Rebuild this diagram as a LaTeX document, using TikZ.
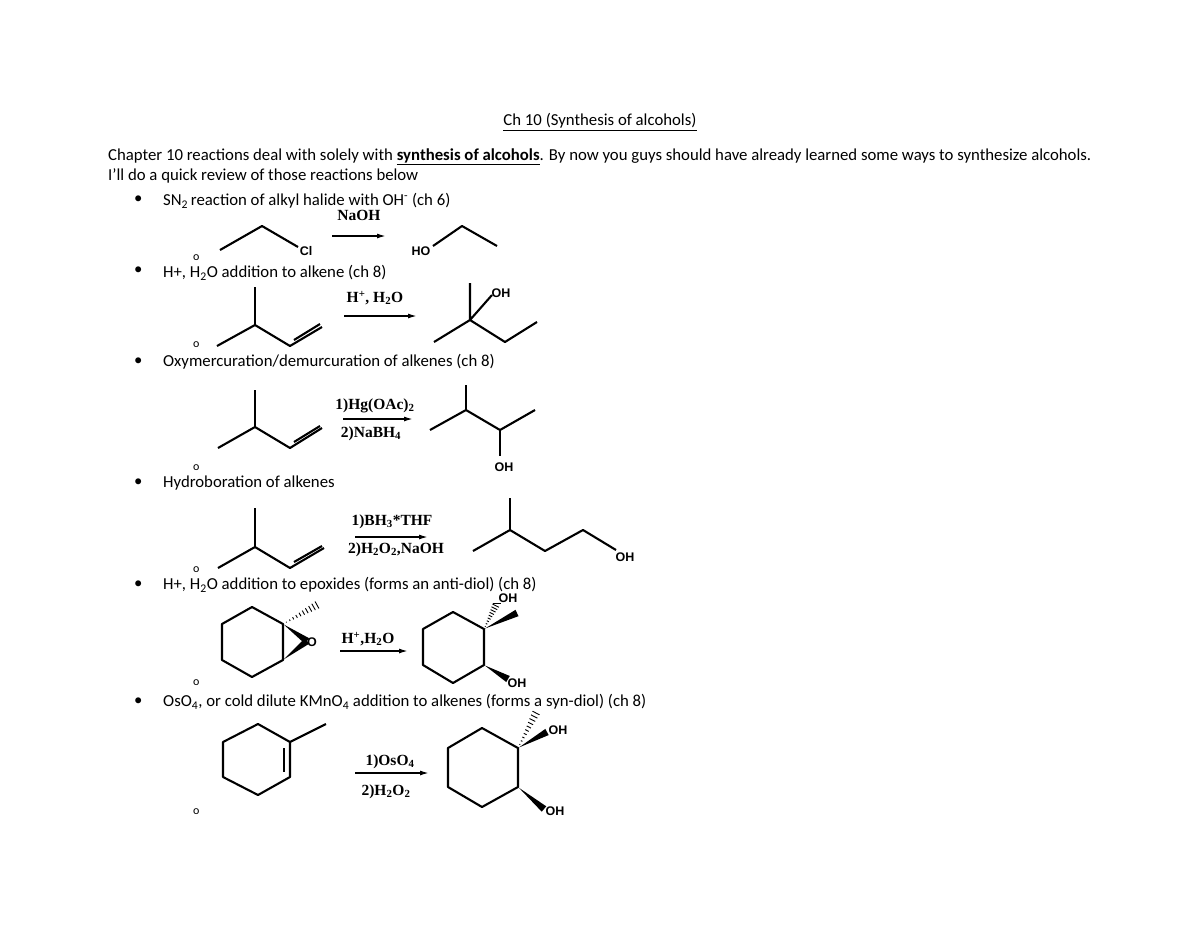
\documentclass[tikz,border=0pt]{standalone}
\usepackage{fontspec}
\setmainfont{Carlito}
\newfontfamily\chemfont{Liberation Sans}
\newfontfamily\regfont{Liberation Serif}
\usetikzlibrary{calc,arrows.meta}
\newcommand\wedgebond[2]{\fill ($(#1)!0.03!(#2)$) -- ($(#2)!3.5pt!90:(#1)$) -- ($(#2)!3.5pt!-90:(#1)$) -- cycle;}
\newcommand\hashbond[2]{\foreach \t in {0.1,0.2,...,1.0}{\draw[line width=0.9pt] ($(#1)!\t!(#2)!{\t*4pt}!90:(#2)$) -- ($(#1)!\t!(#2)!{\t*4pt}!-90:(#2)$);}}
\begin{document}
\begin{tikzpicture}[x=1pt,y=-1pt,
  txt/.style={anchor=west,inner sep=0pt,font=\fontsize{16.75}{18}\selectfont},
  atom/.style={inner sep=0pt,font=\chemfont\bfseries\fontsize{12.5}{13}\selectfont},
  reag/.style={inner sep=0pt,font=\regfont\bfseries\fontsize{15.5}{16}\selectfont},
  bond/.style={line width=2.1pt,line join=round},
  arr/.style={line width=1.5pt,-{Latex[length=9pt,width=5pt]}}]
\useasboundingbox (0,0) rectangle (1200,927);
\fill[white] (0,0) rectangle (1200,927);
% text
\node[txt,anchor=center] (title) at (600,122) {\underline{Ch 10 (Synthesis of alcohols)}};
\node[txt] (p1) at (108,157) {Chapter 10 reactions deal with solely with \underline{\textbf{synthesis of alcohols}}. By now you guys should have already learned some ways to synthesize alcohols.};
\node[txt] (p2) at (108,176) {I’ll do a quick review of those reactions below};
\foreach \y/\n in {200/1,271/2,362/3,483/4,585/5,702/6} \node[txt] (b\n) at (134,\y) {•};
\foreach \y/\n in {258/1,345/2,468/3,570/4,683/5,812/6} \node[txt,font=\fontsize{12}{13}\selectfont] (o\n) at (193,\y) {o};
\node[txt] (t1) at (163,201) {SN\textsubscript{2}\,reaction of alkyl halide with OH\textsuperscript{-} (ch 6)};
\node[txt] (t2) at (163,273) {H+, H\textsubscript{2}O addition to alkene (ch 8)};
\node[txt] (t3) at (163,362) {Oxymercuration/demurcuration of alkenes (ch 8)};
\node[txt] (t4) at (163,483) {Hydroboration of alkenes};
\node[txt] (t5) at (163,585) {H+, H\textsubscript{2}O addition to epoxides (forms an anti-diol) (ch 8)};
\node[txt] (t6) at (163,702) {OsO\textsubscript{4}, or cold dilute KMnO\textsubscript{4} addition to alkenes (forms a syn-diol) (ch 8)};
% reaction 1
\draw[bond] (220,250) -- (262,226) -- (298,247);
\node[atom] (cl) at (306,251) {Cl};
\node[reag] (r1) at (359,215) {NaOH};
\coordinate (a1s) at (332,236); \coordinate (a1e) at (386,236);
\draw[arr] (a1s) -- (a1e);
\node[atom] (ho) at (421,251) {HO};
\draw[bond] (433,246) -- (462,226) -- (497,246);
% reaction 2
\draw[bond] (255,287) -- (255,325); \draw[bond] (217,346) -- (255,325) -- (290,346) -- (322,327);
\draw[bond] (294,340) -- (320,324);
\node[reag] (r2) at (375,298) {H\textsuperscript{+}, H\textsubscript{2}O};
\draw[arr] (344,316) -- (417,316);
\draw[bond] (470,283) -- (470,320) -- (492,295); \node[atom] (oh2) at (501,293) {OH};
\draw[bond] (434,342) -- (470,320) -- (505,342) -- (537,322);
% reaction 3
\draw[bond] (255,390) -- (255,427); \draw[bond] (218,448) -- (255,427) -- (290,448) -- (322,428);
\draw[bond] (294,442) -- (320,426);
\node[reag] (r3a) at (375,406) {1)Hg(OAc)\textsubscript{2}};
\draw[arr] (343,419) -- (413,419);
\node[reag] (r3b) at (371,434) {2)NaBH\textsubscript{4}};
\draw[bond] (466,385) -- (466,410); \draw[bond] (430,430) -- (466,410) -- (500,430) -- (535,410);
\draw[bond] (500,430) -- (500,456); \node[atom] (oh3) at (504,467) {OH};
% reaction 4
\draw[bond] (255,508) -- (255,547); \draw[bond] (218,568) -- (255,547) -- (290,568) -- (324,548);
\draw[bond] (294,562) -- (322,546);
\node[reag] (r4a) at (392,522) {1)BH\textsubscript{3}*THF};
\draw[arr] (355,537) -- (428,537);
\node[reag] (r4b) at (396,550) {2)H\textsubscript{2}O\textsubscript{2},NaOH};
\draw[bond] (510,498) -- (510,530); \draw[bond] (473,551) -- (510,530) -- (545,551) -- (583,530) -- (616,550);
\node[atom] (oh4) at (625,557) {OH};
% reaction 5
\draw[bond] (252,607) -- (283,624) -- (283,660) -- (252,677) -- (222,660) -- (222,624) -- cycle;
\coordinate (e1) at (283,624); \coordinate (e2) at (283,660); \coordinate (eo) at (307,641);
\wedgebond{e1}{eo} \wedgebond{e2}{eo}
\hashbond{e1}{317,605}
\node[atom] (o5) at (312,642) {O};
\node[reag] (r5) at (368,639) {H\textsuperscript{+},H\textsubscript{2}O};
\draw[arr] (340,651) -- (408,651);
\draw[bond] (453,612) -- (484,629) -- (484,665) -- (453,683) -- (423,665) -- (423,629) -- cycle;
\coordinate (f1) at (484,629); \coordinate (f2) at (484,665);
\hashbond{f1}{497,603}
\wedgebond{f1}{517,613}
\wedgebond{f2}{508,679}
\node[atom] (oh5a) at (508,598) {OH};
\node[atom] (oh5b) at (517,683) {OH};
% reaction 6
\draw[bond] (258,724) -- (290,742) -- (290,777) -- (258,795) -- (223,777) -- (223,742) -- cycle;
\draw[bond] (290,742) -- (326,724);
\draw[bond] (284,748) -- (284,772);
\node[reag] (r6a) at (390,762) {1)OsO\textsubscript{4}};
\draw[arr] (355,773) -- (429,773);
\node[reag] (r6b) at (386,792) {2)H\textsubscript{2}O\textsubscript{2}};
\draw[bond] (482,728) -- (518,748) -- (518,787) -- (482,807) -- (448,787) -- (448,748) -- cycle;
\coordinate (g1) at (518,748); \coordinate (g2) at (518,787);
\hashbond{g1}{536,713}
\wedgebond{g1}{547,732}
\wedgebond{g2}{544,809}
\node[atom] (oh6a) at (558,730) {OH};
\node[atom] (oh6b) at (555,811) {OH};
\end{tikzpicture}
\end{document}
